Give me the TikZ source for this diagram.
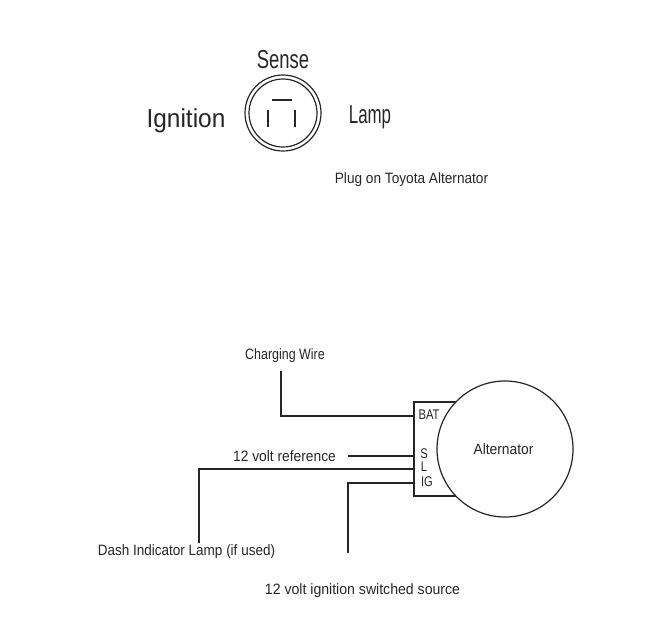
\documentclass[tikz,border=0pt]{standalone}
\usepackage{fontspec}
\setmainfont{Liberation Sans}
\usepackage{tikz}
\usetikzlibrary{calc}

\begin{document}
\begin{tikzpicture}[
  x=1pt, y=-1pt,
  every node/.style={inner sep=0pt, outer sep=0pt},
  wire/.style={line width=1.2pt, draw=black!85},
  biglabel/.style={font=\fontsize{26}{28}\selectfont, text=black!85, transform shape},
  smalllabel/.style={font=\fontsize{15}{17}\selectfont, text=black!85, transform shape},
  pinlabel/.style={font=\fontsize{14}{15}\selectfont, text=black!85, transform shape, xscale=.8},
]
\useasboundingbox (0,0) rectangle (650,630);

% plug
\node[circle, wire, minimum size=76pt] (shell) at (283,113) {};
\node[circle, wire, minimum size=68pt] (socket) at (283,113) {};
\draw[wire] (272,100) -- (292,100);
\draw[wire] (268,110) -- (268,127);
\draw[wire] (295,110) -- (295,127);

\node[biglabel, xscale=.71] (sense) at (283,60) {Sense};
\node[biglabel, xscale=.94] (ignition) at (186,121) {Ignition};
\node[biglabel, xscale=.65] (lamp) at (370,117) {Lamp};
\node[smalllabel, xscale=.91] (plug) at (411.5,180) {Plug on Toyota Alternator};

% alternator
\node[wire, minimum width=60pt, minimum height=94pt] (box) at (444,449) {};
\node[circle, wire, fill=white, minimum size=136pt] (alt) at (505,449) {};
\node[smalllabel, xscale=.92] (altlabel) at (503.5,449) {Alternator};

\node[pinlabel] (bat) at (429,415) {BAT};
\node[pinlabel] (s) at (424,454) {S};
\node[pinlabel] (l) at (424,467) {L};
\node[pinlabel] (ig) at (427,482) {IG};

% wires
\coordinate (chargeend) at (281,371);
\coordinate (refend) at (348,456);
\coordinate (lampend) at (199,543);
\coordinate (ignend) at (348,553);

\draw[wire] (chargeend) |- (box.west |- 0,416);
\draw[wire] (refend) -- (box.west |- refend);
\draw[wire] (lampend) |- (box.west |- 0,469);
\draw[wire] (ignend) |- (box.west |- 0,483);

% labels
\node[smalllabel, xscale=.83] (charging) at (285,356) {Charging Wire};
\node[smalllabel, xscale=.92] (reference) at (284.5,456) {12 volt reference};
\node[smalllabel, xscale=.90] (dash) at (186.5,552) {Dash Indicator Lamp (if used)};
\node[smalllabel, xscale=.94] (source) at (362.5,591) {12 volt ignition switched source};

\end{tikzpicture}
\end{document}
